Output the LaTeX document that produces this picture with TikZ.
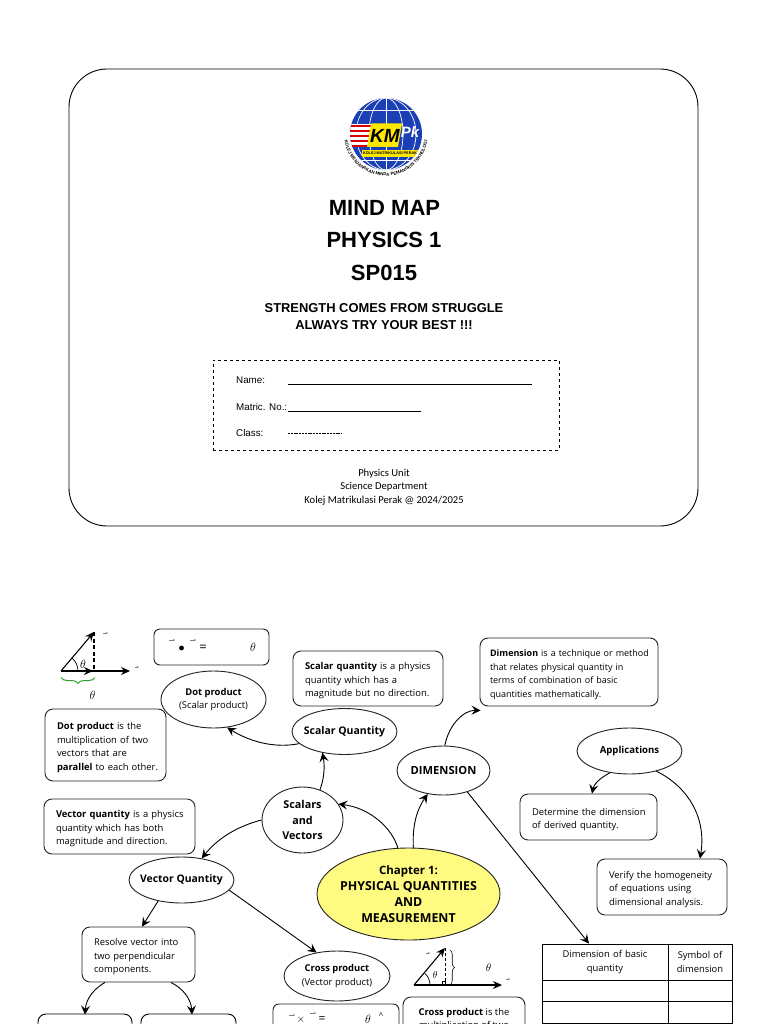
\documentclass[tikz,border=0pt]{standalone}
\usepackage{fontspec}
\setmainfont{Open Sans}
\newfontfamily\arialf{Liberation Sans}
\newfontfamily\carlf{Carlito}
\usetikzlibrary{arrows.meta,shapes.geometric,decorations.pathreplacing,decorations.text}
\definecolor{ink}{HTML}{222222}
\definecolor{yell}{HTML}{FFFA80}
\definecolor{kblue}{HTML}{1B3FB4}
\definecolor{braceg}{HTML}{2E9E2E}
\newcommand{\mln}[1]{\mbox{#1}}
\tikzset{
  mapfont/.style={font=\fontsize{9.4}{13.5}\selectfont},
  tbox/.style={draw=ink,line width=0.9pt,rounded corners=8pt,align=left,inner xsep=12pt,inner ysep=3pt,mapfont,execute at begin node={\rule{0pt}{12pt}}},
  ebox/.style={draw=black,line width=0.9pt,rounded corners=6pt,inner sep=0pt},
  oval/.style={draw=ink,line width=0.9pt,ellipse,inner sep=0pt,align=center,mapfont},
  ovaltext/.style={inner sep=0pt,align=center},
  conn/.style={line width=0.9pt,-{Stealth[length=9pt,width=9pt,inset=3.5pt]}},
  tiny arrow/.style={line width=0.3pt,-{Stealth[length=2pt,width=2pt]},gray},
  cell/.style={draw=black,line width=0.9pt,inner sep=0pt,align=center,mapfont},
  titlef/.style={font=\arialf\bfseries\fontsize{22}{24}\selectfont},
  subf/.style={font=\arialf\bfseries\fontsize{12.9}{14}\selectfont},
  formf/.style={font=\arialf\fontsize{9.8}{13}\selectfont,anchor=west},
  footf/.style={font=\carlf\fontsize{10.6}{13.4}\selectfont,align=center},
  vecline/.style={line width=1.1pt,-{Stealth[length=9pt,width=8pt,inset=3pt]}},
}
\begin{document}
\begin{tikzpicture}[x=1pt,y=-1pt]
\useasboundingbox (0,0) rectangle (768,1024);
\clip (0,0) rectangle (768,1024);
\fill[white] (0,0) rectangle (768,1024);

% ---- cover
\node[draw=black,line width=0.9pt,rounded corners=38pt,minimum width=629pt,minimum height=457pt,inner sep=0pt] (cover) at (383.5,297.5) {};

% logo
\begin{scope}[shift={(386,134)},x=1pt,y=1pt]
  \fill[kblue] (0,0) circle (36);
  \begin{scope}
    \clip (0,0) circle (36);
    \draw[white,line width=0.7pt] (0,36) -- (0,-36);
    \draw[white,line width=0.7pt] (0,0) ellipse (17 and 36);
    \draw[white,line width=0.7pt] (0,0) ellipse (30 and 36);
    \draw[white,line width=0.7pt] (-36,24) -- (36,24);
    \draw[white,line width=0.7pt] (-36,-26) -- (36,-26);
    \fill[white] (-38,10) rectangle (-8,-12);
    \foreach \yy in {9,4,-1,-6,-11}{\fill[red!85!black] (-38,\yy) rectangle (-8,\yy-2.4);}
    \fill[yellow!90!orange] (-15,10.5) -- (16,10.5) -- (12,-13) -- (-19,-13) -- cycle;
    \fill[yellow!90!orange] (-24,-16) rectangle (33,-23);
  \end{scope}
  \node[font=\arialf\bfseries\itshape\fontsize{19}{19}\selectfont,inner sep=0pt] (kmlogo) at (-1,-1.5) {KM};
  \node[font=\arialf\bfseries\itshape\fontsize{15}{15}\selectfont,text=white,inner sep=0pt] (pklogo) at (24,2) {Pk};
  \node[font=\arialf\bfseries\fontsize{3.8}{4}\selectfont,inner sep=0pt] (kolejlogo) at (4,-19.5) {KOLEJ MATRIKULASI PERAK};
  \path[decorate,decoration={text along path,text align=center,
    text={|\arialf\bfseries\fontsize{4.4}{5}\selectfont|KOLEJ MENJANAKAN MINDA PEMANGKIN TEKNOLOGI}}]
    (170:42) arc (170:370:42);
\end{scope}

\node[titlef] (t1) at (384.5,208) {MIND MAP};
\node[titlef] (t2) at (384,240) {PHYSICS 1};
\node[titlef] (t3) at (384,273) {SP015};
\node[subf] (s1) at (384,308) {STRENGTH COMES FROM STRUGGLE};
\node[subf] (s2) at (384,325) {ALWAYS TRY YOUR BEST !!!};

\node[draw=black,line width=0.8pt,dashed,minimum width=346pt,minimum height=90pt,inner sep=0pt] (form) at (386,405) {};
\node[formf,inner sep=0pt] (fn) at (236,380) {Name:};
\node[formf,inner sep=0pt] (fm) at (236,407) {Matric. No.:};
\node[formf,inner sep=0pt] (fc) at (236,433) {Class:};
\coordinate (l1a) at (288,384); \coordinate (l1b) at (532,384);
\coordinate (l2a) at (288,411.5); \coordinate (l2b) at (421,411.5);
\coordinate (l3a) at (288,433); \coordinate (l3b) at (342,433);
\draw[line width=0.8pt] (l1a) -- (l1b);
\draw[line width=0.8pt] (l2a) -- (l2b);
\draw[line width=0.6pt,dash pattern=on 2pt off 0.8pt] (l3a) -- (l3b);
\node[footf] (foot) at (384,487) {Physics Unit\\Science Department\\Kolej Matrikulasi Perak @ 2024/2025};

% ---- mind map nodes
\node[oval,fill=yell,minimum width=183pt,minimum height=92pt] (chap) at (408.5,894) {};
\node[ovaltext,font=\bfseries\fontsize{12.4}{16}\selectfont] (chapt) at (chap.center) {{\fontsize{11.5}{16}\selectfont Chapter 1:}\\PHYSICAL QUANTITIES\\AND\\MEASUREMENT};
\node[oval,minimum width=81pt,minimum height=66pt] (sv) at (302.5,820) {};
\node[ovaltext,font=\bfseries\fontsize{10.8}{15.5}\selectfont] (svt) at (sv.center) {Scalars\\and\\Vectors};
\node[oval,minimum width=105pt,minimum height=46pt] (sq) at (344.5,731.5) {};
\node[ovaltext,font=\bfseries\fontsize{10.5}{12}\selectfont] (sqt) at (sq.center) {Scalar Quantity};
\node[oval,minimum width=105pt,minimum height=46pt] (vq) at (181.5,880) {};
\node[ovaltext,font=\bfseries\fontsize{10.4}{12}\selectfont] (vqt) at (vq.center) {Vector Quantity};
\node[oval,minimum width=105pt,minimum height=57pt] (dot) at (213.5,699.5) {};
\node[ovaltext,mapfont] (dott) at (dot.center) {\textbf{Dot product}\\(Scalar product)};
\node[oval,minimum width=106pt,minimum height=50pt] (cross) at (337,976) {};
\node[ovaltext,mapfont] (crosst) at (cross.center) {\textbf{Cross product}\\(Vector product)};
\node[oval,minimum width=93pt,minimum height=49pt] (dim) at (443.5,770.5) {};
\node[ovaltext,font=\bfseries\fontsize{11.2}{12}\selectfont] (dimt) at (dim.center) {DIMENSION};
\node[oval,minimum width=105pt,minimum height=46pt] (app) at (629.5,751) {};
\node[ovaltext,font=\bfseries\fontsize{9.6}{12}\selectfont] (appt) at (app.center) {Applications};

\node[tbox,text width=97pt,minimum height=72pt] (dotb) at (105.5,745) {\mln{\textbf{Dot product} is the}\\\mln{multiplication of two}\\\mln{vectors that are}\\\mln{\textbf{parallel} to each other.}};
\node[tbox,text width=127pt,minimum height=55pt] (vecb) at (119.5,826.5) {\mln{\textbf{Vector quantity} is a physics}\\\mln{quantity which has both}\\\mln{magnitude and direction.}};
\node[tbox,text width=126pt,minimum height=55pt] (scab) at (368,678.5) {\mln{\textbf{Scalar quantity} is a physics}\\\mln{quantity which has a}\\\mln{magnitude but no direction.}};
\node[tbox,text width=158pt,minimum height=68pt,inner xsep=10pt,font=\fontsize{9}{13.5}\selectfont] (dimb) at (569,672) {\mln{\textbf{Dimension} is a technique or method}\\\mln{that relates physical quantity in}\\\mln{terms of combination of basic}\\\mln{quantities mathematically.}};
\node[tbox,text width=113pt,minimum height=46pt] (detb) at (588.5,817) {\mln{Determine the dimension}\\\mln{of derived quantity.}};
\node[tbox,text width=106pt,minimum height=56pt] (verb) at (662,887) {\mln{Verify the homogeneity}\\\mln{of equations using}\\\mln{dimensional analysis.}};
\node[tbox,text width=89pt,minimum height=55pt] (resb) at (138.5,954.5) {\mln{Resolve vector into}\\\mln{two perpendicular}\\\mln{components.}};
\node[draw=black,line width=0.9pt,rounded corners=8pt,inner sep=0pt,minimum width=94pt,minimum height=52pt] (compa) at (85,1040) {};
\node[draw=black,line width=0.9pt,rounded corners=8pt,inner sep=0pt,minimum width=95pt,minimum height=52pt] (compb) at (188.5,1040) {};
\node[draw=ink,line width=0.9pt,rounded corners=8pt,inner sep=0pt,minimum width=122pt,minimum height=60pt] (crob) at (464,1027) {};
\node[ovaltext,mapfont] (crobt) at (464,1019.5) {\textbf{Cross product} is the\\multiplication of two};
\node[ebox,draw=ink,minimum width=115pt,minimum height=36pt] (doteq) at (211.5,647) {};
\node[ebox,draw=ink,minimum width=126pt,minimum height=50pt] (croeq) at (336,1029) {};

% table
\node[cell,minimum width=126pt,minimum height=36pt,text width=120pt] (h1) at (605,962) {Dimension of basic\\quantity};
\node[cell,minimum width=64pt,minimum height=36pt,text width=60pt] (h2) at (700,962) {Symbol of\\dimension};
\foreach \n/\cy/\hh in {1/990.5/21,2/1012/22,3/1034/22}{
  \node[cell,minimum width=126pt,minimum height=\hh pt] (a\n) at (605,\cy) {};
  \node[cell,minimum width=64pt,minimum height=\hh pt] (b\n) at (700,\cy) {};
}

% ---- connectors
\draw[conn] (sq.195) .. controls (272,749) and (247,740) .. (dot.-64);
\draw[conn] (sv.60) .. controls (324,779) and (325,767) .. (sq.224);
\draw[conn] (chap.103) .. controls (392,828) and (370,808) .. (sv.24);
\draw[conn] (sv.180) .. controls (238,826) and (218,838) .. (vq.47);
\draw[conn] (vq.222) -- ([xshift=3.5pt]resb.north);
\draw[conn] (vq.-12) -- (cross.131);
\draw[conn] ([xshift=-33.5pt]resb.south) .. controls (95,988) and (86,998) .. ([yshift=-1pt]compa.north);
\draw[conn] ([xshift=32.5pt]resb.south) .. controls (182,988) and (191,998) .. ([xshift=3.5pt,yshift=-1pt]compb.north);
\draw[conn] (chap.84) .. controls (412,823) and (418,808) .. (dim.236);
\draw[conn] (dim.87) .. controls (449,724) and (464,710) .. ([shift={(1pt,-4pt)}]dimb.south west);
\draw[conn] (dim.-42) -- ([xshift=-16pt]h1.north);
\draw[conn] (app.-132) .. controls (600,778) and (594,784) .. ([xshift=3.5pt]detb.north);
\draw[conn] (app.-37) .. controls (685,785) and (707,815) .. ([xshift=38pt]verb.north);

% ---- vector sketches: dot product
\coordinate (do) at (61,671);
\coordinate (dq) at (94,632);
\coordinate (dr) at (130,671);
\coordinate (di) at (93,671);
\draw[vecline] (do) -- (dq);
\draw[vecline] (do) -- (dr);
\draw[vecline] (do) -- (di);
\draw[line width=1.2pt,dash pattern=on 4pt off 2.5pt] (dq) -- (94,671);
\draw[line width=0.7pt] (78,671) arc[start angle=0,end angle=50,radius=17pt];
\node[inner sep=0pt,font=\fontsize{12}{12}\selectfont] (dth) at (83,664) {$\theta$};
\node[inner sep=0pt,font=\fontsize{12}{12}\selectfont] (dth2) at (92.5,695) {$\theta$};
\draw[braceg,line width=1pt,decorate,decoration={brace,mirror,amplitude=6pt}] (61,677.5) -- (95,677.5);
\draw[tiny arrow] (103,633) -- (108,633);
\draw[tiny arrow] (135,667) -- (139,667);

\draw[tiny arrow] (169,640) -- (175,640);
\draw[tiny arrow] (190,640) -- (196,640);
\fill (181.5,648) circle (2.4);
\node[inner sep=0pt,font=\fontsize{13}{13}\selectfont] (deq) at (203,648) {=};
\node[inner sep=0pt,font=\fontsize{13}{13}\selectfont] (dth3) at (253,647) {$\theta$};

% ---- vector sketches: cross product
\coordinate (co) at (414,985);
\coordinate (cq) at (445,948);
\coordinate (cr) at (502,985);
\draw[vecline] (co) -- (cq);
\draw[vecline] (co) -- (cr);
\draw[line width=0.8pt,dash pattern=on 3pt off 2pt] (cq) -- (445,985);
\draw[line width=0.5pt] (442,985) rectangle (445,981.5);
\draw[line width=0.7pt] (430,985) arc[start angle=0,end angle=50,radius=16pt];
\node[inner sep=0pt,font=\fontsize{10}{10}\selectfont] (cth) at (435,975) {$\theta$};
\node[inner sep=0pt,font=\fontsize{11}{11}\selectfont] (cth2) at (488.5,968) {$\theta$};
\draw[line width=0.6pt,decorate,decoration={brace,amplitude=4.5pt}] (450,950) -- (450,985);
\draw[tiny arrow] (426,953) -- (430,953);
\draw[tiny arrow] (506,979) -- (510,979);

\draw[tiny arrow] (289,1015) -- (295,1015);
\draw[tiny arrow] (310,1013) -- (316,1013);
\node[inner sep=0pt,font=\fontsize{11}{11}\selectfont] (cx) at (301,1020) {$\times$};
\node[inner sep=0pt,font=\fontsize{12}{12}\selectfont] (ceq) at (322,1020) {=};
\node[inner sep=0pt,font=\fontsize{13}{13}\selectfont] (cth3) at (368,1019) {$\theta$};
\node[inner sep=0pt,font=\fontsize{8}{8}\selectfont] (chat) at (381,1016) {\textasciicircum};
\end{tikzpicture}
\end{document}
